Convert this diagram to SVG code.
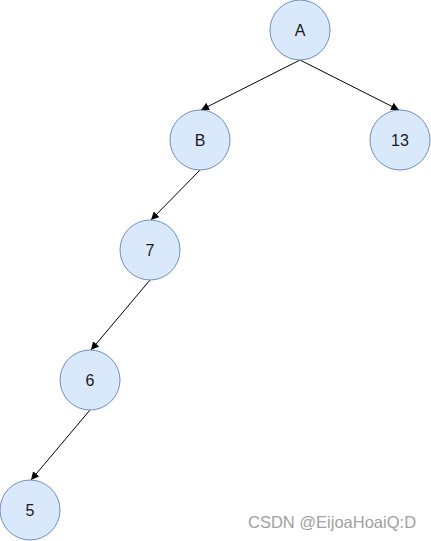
<svg xmlns="http://www.w3.org/2000/svg" width="431" height="541" viewBox="0 0 431 541">
<defs>
<style>
.n{fill:#dae8fc;stroke:#6c8ebf;stroke-width:1}
.t{font-family:"Liberation Sans",Arial,sans-serif;font-size:16px;fill:#1a1a1a;text-anchor:middle;dominant-baseline:central}
.e{stroke:#000;stroke-width:1;fill:none;marker-end:url(#ah)}
.w{font-family:"Liberation Sans",Arial,sans-serif;font-size:16.5px;fill:#a0a0a0}
</style>
<marker id="ah" viewBox="0 0 10 10" refX="10" refY="5" markerWidth="8" markerHeight="8" markerUnits="userSpaceOnUse" orient="auto"><path d="M0,0 L10,5 L0,10 Z" fill="#000"/></marker>
</defs>
<rect width="431" height="541" fill="#fff"/>
<g id="connectors">
<line class="e" x1="300" y1="60" x2="201" y2="110"/>
<line class="e" x1="300" y1="60" x2="399" y2="110"/>
<line class="e" x1="200" y1="170" x2="151" y2="220"/>
<line class="e" x1="150" y1="280" x2="91" y2="350"/>
<line class="e" x1="90" y1="410" x2="31" y2="480"/>
</g>
<g id="nA"><circle class="n" cx="300" cy="30" r="30"/><text class="t" x="300" y="30">A</text></g>
<g id="nB"><circle class="n" cx="200" cy="140" r="30"/><text class="t" x="200" y="140">B</text></g>
<g id="n13"><circle class="n" cx="400" cy="140" r="30"/><text class="t" x="400" y="140">13</text></g>
<g id="n7"><circle class="n" cx="150" cy="250" r="30"/><text class="t" x="150" y="250">7</text></g>
<g id="n6"><circle class="n" cx="90" cy="380" r="30"/><text class="t" x="90" y="380">6</text></g>
<g id="n5"><circle class="n" cx="30" cy="510" r="30"/><text class="t" x="30" y="510">5</text></g>
<text class="w" x="248" y="528">CSDN @EijoaHoaiQ:D</text>
</svg>
